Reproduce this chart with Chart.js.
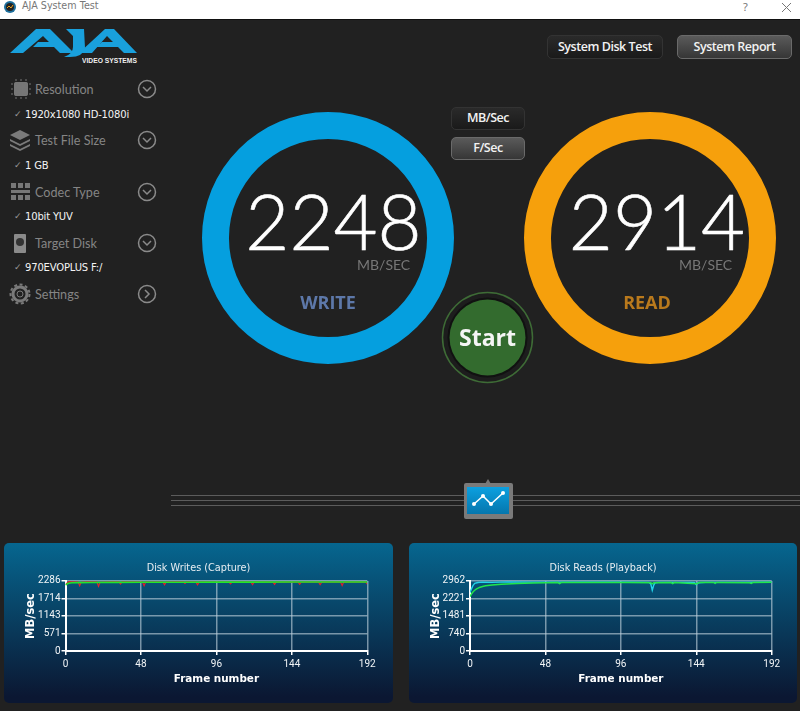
<!DOCTYPE html>
<html><head><meta charset="utf-8">
<script src="https://cdn.jsdelivr.net/npm/chart.js@4"></script>
<style>
html,body{margin:0;padding:0;background:#212121;width:800px;height:711px;overflow:hidden}
#root{position:absolute;left:0;top:0;width:800px;height:711px;background:#212121;overflow:hidden}
.a{position:absolute;white-space:nowrap}
canvas{position:absolute}
.btn{position:absolute;border-radius:5px;color:#f2f2f2;font:600 12.5px "Open Sans",sans-serif;letter-spacing:-.45px;text-align:center;box-sizing:border-box;border:1px solid #333}
.dark{background:linear-gradient(#2a2a2a,#1a1a1a)}
.light{background:linear-gradient(#5a5a5a,#363636);border-color:#6a6a6a}
.lab{font:12.6px Lato,sans-serif;color:#858585;left:35px}
.val{font:10px "DejaVu Sans",sans-serif;letter-spacing:-.17px;color:#f4f4f4;left:25px}
.chk{font:9px "DejaVu Sans",sans-serif;color:#999;left:14px}
.panel{position:absolute;top:543px;height:160px;border-radius:5px;background:linear-gradient(#06668f,#0b1732 96%)}
.line{position:absolute;left:171px;width:629px;height:1px;background:#5c5c5c}
.num{left:207.5px;width:252px;text-align:center;top:176px;font:300 76px/90px Lato,sans-serif;color:#fff;-webkit-text-stroke:.6px #fff}
</style></head><body>
<div id="root">
<div class="a" style="left:0;top:0;width:800px;height:20px;background:#fff;border-bottom:1px solid #111;box-sizing:border-box"></div>
<svg class="a" style="left:3px;top:0" width="14" height="14"><circle cx="7" cy="7" r="6" fill="#1d6f9c"/><circle cx="7" cy="7" r="4" fill="#222"/><path d="M4 8 L6 6 L8 8 L10 5" stroke="#e8a020" fill="none"/></svg>
<div class="a" style="left:22px;top:0;font:9.6px 'DejaVu Sans',sans-serif;color:#777">AJA System Test</div>
<div class="a" style="left:743px;top:-1px;font:11px 'Noto Sans',sans-serif;color:#777">?</div>
<svg class="a" style="left:780px;top:1px" width="12" height="12"><path d="M2 2L11 11M11 2L2 11" stroke="#777"/></svg>

<svg class="a" style="left:0;top:20px" width="150" height="45"><g fill="#19a0dc" transform="translate(0,-20)">
<path d="M10 53 L36 29 H50 L74 53 H60 L54 47 H33 L38 42 H49 L43 36 L23 53Z"/>
<path d="M66 29 H84 L85 48 Q83 57 70 57 H64 Q73 54 73 47 L73 36Z"/>
<path d="M79 53 L105 29 H114 L137 53 H124 L118 47 H97 L102 42 H113 L107 36 L92 53Z"/>
</g></svg>
<div class="a" style="left:82px;top:56px;font:bold 8px 'Liberation Sans',sans-serif;color:#f0f0f0;transform:scaleX(.84);transform-origin:left">VIDEO SYSTEMS</div>

<svg class="a" style="left:0;top:75px" width="170" height="235" fill="none">
<g><rect x="14" y="7" width="14" height="14" rx="2" fill="#777"/><path d="M11 9H31M11 14H31M11 19H31M16 4V24M21 4V24M26 4V24" stroke="#777" stroke-dasharray="2 1"/></g>
<g fill="#7a7a7a"><path d="M10 60L20 55L30 60L20 65Z"/><path d="M10 64L20 69L30 64V66L20 71L10 66Z"/><path d="M10 69L20 74L30 69V71L20 76L10 71Z"/></g>
<g fill="#777"><path d="M11 108h5v5h-5zM18 108h5v5h-5zM25 108h5v5h-5zM11 115h19v3h-19zM11 120h5v5h-5zM18 120h5v5h-5zM25 120h5v5h-5z"/></g>
<g><rect x="14" y="159" width="12" height="19" rx="1" fill="#8a8a8a"/><circle cx="20" cy="167" r="4" fill="#333"/></g>
<g><circle cx="20" cy="219" r="7" stroke="#7a7a7a" stroke-width="3"/><circle cx="20" cy="219" r="9.5" stroke="#7a7a7a" stroke-width="2" stroke-dasharray="3 2.5"/><circle cx="20" cy="219" r="3" stroke="#7a7a7a"/></g>
<g stroke="#8a8a8a" stroke-width="1.5"><circle cx="147" cy="14" r="8.5"/><path d="M143 12l4 4l4-4"/><circle cx="147" cy="65" r="8.5"/><path d="M143 63l4 4l4-4"/><circle cx="147" cy="117" r="8.5"/><path d="M143 115l4 4l4-4"/><circle cx="147" cy="168" r="8.5"/><path d="M143 166l4 4l4-4"/><circle cx="147" cy="219" r="8.5"/><path d="M145 215l4 4l-4 4"/></g>
</svg>
<div class="a lab" style="top:82px">Resolution</div>
<div class="a chk" style="top:109px">✓</div><div class="a val" style="top:109px">1920x1080 HD-1080i</div>
<div class="a lab" style="top:133px">Test File Size</div>
<div class="a chk" style="top:160px">✓</div><div class="a val" style="top:160px">1 GB</div>
<div class="a lab" style="top:185px">Codec Type</div>
<div class="a chk" style="top:211px">✓</div><div class="a val" style="top:211px">10bit YUV</div>
<div class="a lab" style="top:236px">Target Disk</div>
<div class="a chk" style="top:262px">✓</div><div class="a val" style="top:262px">970EVOPLUS F:/</div>
<div class="a lab" style="top:287px">Settings</div>

<div class="btn dark" style="left:547px;top:35px;width:116px;height:24px;line-height:22px">System Disk Test</div>
<div class="btn light" style="left:677px;top:35px;width:115px;height:24px;line-height:22px">System Report</div>
<div class="btn dark" style="left:451px;top:107px;width:74px;height:23px;line-height:20px">MB/Sec</div>
<div class="btn light" style="left:451px;top:137px;width:74px;height:23px;line-height:20px">F/Sec</div>

<canvas id="ringW" style="left:201.5px;top:111.5px;width:252px;height:252px" width="252" height="252"></canvas>
<canvas id="ringR" style="left:524px;top:111.5px;width:252px;height:252px" width="252" height="252"></canvas>

<div class="a num" id="numW"></div>
<div class="a num" id="numR" style="left:531px"></div>
<div class="a" style="left:357px;top:256px;font:14px Lato,sans-serif;color:#777">MB/SEC</div>
<div class="a" style="left:679px;top:256px;font:14px Lato,sans-serif;color:#777">MB/SEC</div>
<div class="a" style="left:228px;width:200px;text-align:center;top:290px;font:bold 18px 'Open Sans',sans-serif;color:#5d78a9">WRITE</div>
<div class="a" style="left:547px;width:200px;text-align:center;top:290px;font:bold 18px 'Open Sans',sans-serif;color:#b9791c">READ</div>

<svg class="a" style="left:440px;top:290px" width="96" height="96"><circle cx="47.5" cy="47.5" r="45" fill="#1d1d1d" stroke="#3e6b36" stroke-width="1.5"/><circle cx="47.5" cy="47.5" r="40" fill="#111"/><circle cx="47.5" cy="47.5" r="38" fill="#336b2e"/></svg>
<div class="a" style="left:440px;width:95px;text-align:center;top:321px;font:bold 23px 'Open Sans',sans-serif;color:#f5f5f5">Start</div>

<div class="line" style="top:495px"></div><div class="line" style="top:500px"></div><div class="line" style="top:505px"></div>
<svg class="a" style="left:462px;top:476px" width="54" height="46"><defs><linearGradient id="g" x1="0" y1="0" x2="0" y2="1"><stop offset="0" stop-color="#0ca0e0"/><stop offset="1" stop-color="#0576ad"/></linearGradient></defs>
<path d="M23 8L26 3L29 8Z" fill="#777"/><rect x="2" y="7" width="49" height="36" rx="2" fill="#7a7a7a"/><rect x="5" y="11" width="42" height="27" fill="url(#g)"/>
<path d="M12 28L21 20L29 28L41 17" stroke="#fff" stroke-width="1.5" fill="none"/><g fill="#fff"><circle cx="12" cy="28" r="2"/><circle cx="21" cy="20" r="2"/><circle cx="29" cy="28" r="2"/><circle cx="41" cy="17" r="2"/></g></svg>

<div class="panel" style="left:4px;width:389px"></div>
<div class="panel" style="left:409px;width:388px"></div>
<canvas id="chartW" style="left:4px;top:543px;width:389px;height:160px" width="389" height="160"></canvas>
<canvas id="chartR" style="left:409px;top:543px;width:388px;height:160px" width="388" height="160"></canvas>
</div>
<script>
const writeMBs = 2248;
const readMBs = 2914;
const frameTicks = [0, 48, 96, 144, 192];
const writeTicks = [0, 571, 1143, 1714, 2286];
const readTicks = [0, 740, 1481, 2221, 2962];

const writeRedFrames = [0,2,4,8,9,10,14,20,21,22,30,34,35,36,49,50,51,62,63,64,75,76,77,83,84,85,104,105,106,118,119,120,132,133,134,148,149,150,161,162,163,175,176,177,191,192];
const writeRedValues = [2170,2262,2258,2250,2130,2245,2262,2250,2110,2245,2262,2255,2190,2255,2250,2130,2250,2250,2160,2250,2255,2205,2255,2250,2160,2250,2250,2190,2250,2250,2165,2250,2250,2175,2250,2250,2180,2250,2250,2165,2250,2250,2140,2250,2250,2180];
const writeGreenFrames = [0,1,2,4,8,16,32,48,72,96,120,144,168,192];
const writeGreenValues = [2150,2190,2215,2228,2234,2238,2240,2244,2246,2250,2250,2252,2252,2254];

const readCyanFrames = [0,1,2,3,5,8,14,24,40,60,80,100,114,115,116,117,118,120,140,143,144,145,150,170,192];
const readCyanValues = [2480,2640,2780,2860,2900,2915,2905,2925,2915,2915,2915,2910,2905,2850,2570,2800,2890,2905,2905,2890,2810,2890,2905,2905,2910];
const readGreenFrames = [0,1,2,3,4,6,8,10,14,20,30,40,56,57,58,80,100,115,116,117,128,129,130,144,145,146,155,156,157,178,179,180,192];
const readGreenValues = [2300,2420,2510,2570,2620,2690,2730,2760,2790,2820,2860,2880,2895,2850,2895,2900,2900,2890,2840,2890,2895,2850,2895,2850,2870,2895,2900,2860,2900,2890,2860,2895,2905];

const pts = (xs, ys) => xs.map((x, i) => ({x, y: ys[i]}));
const FONT = "'DejaVu Sans', sans-serif";
const TICKFONT = "Roboto, sans-serif";
document.getElementById('numW').textContent = writeMBs;
document.getElementById('numR').textContent = readMBs;

function ring(id, value, color) {
  new Chart(document.getElementById(id), {
    type: 'doughnut',
    data: { labels: ['MB/sec'], datasets: [{ data: [value], backgroundColor: [color], borderWidth: 0 }] },
    options: { responsive: false, animation: false, cutout: '78.6%', layout: { padding: 0 },
      plugins: { legend: { display: false }, tooltip: { enabled: false } } }
  });
}
ring('ringW', writeMBs, '#059fdf');
ring('ringR', readMBs, '#f6a00c');

function lineChart(id, title, yTicks, datasets, axisW, padR) {
  new Chart(document.getElementById(id), {
    type: 'line',
    data: { datasets },
    options: {
      responsive: false, animation: false, parsing: false,
      layout: { padding: 0 },
      elements: { point: { radius: 0 }, line: { tension: 0, borderWidth: 1.4 } },
      plugins: {
        legend: { display: false }, tooltip: { enabled: false },
        title: { display: true, text: title, color: '#e8eef2', font: { family: FONT, size: 9.7, weight: 'normal', lineHeight: 1.237 }, padding: { top: 19, bottom: 7 } }
      },
      scales: {
        x: {
          type: 'linear', min: 0, max: 192,
          afterBuildTicks: s => { s.ticks = frameTicks.map(value => ({ value })); },
          afterFit: s => { s.height = 52; },
          ticks: { color: '#f2f5f7', font: { family: TICKFONT, size: 10 }, padding: 3, maxRotation: 0, autoSkip: false },
          grid: { color: 'rgba(190,208,220,.62)', lineWidth: 1.5, tickLength: 4, tickColor: '#fff' },
          border: { color: '#fff', width: 2 },
          title: { display: true, text: 'Frame number', color: '#fff', font: { family: FONT, size: 10.4, weight: 'bold', lineHeight: 1.1 }, padding: { top: 2, bottom: 18 } }
        },
        y: {
          min: 0, max: yTicks[yTicks.length - 1],
          afterBuildTicks: s => { s.ticks = yTicks.map(value => ({ value })); },
          afterFit: s => { s.width = axisW; },
          ticks: { color: '#f2f5f7', font: { family: TICKFONT, size: 10 }, padding: 1, autoSkip: false, callback: v => String(v) },
          grid: { color: 'rgba(190,208,220,.62)', lineWidth: 1.5, tickLength: 4, tickColor: '#fff' },
          border: { color: '#fff', width: 2 },
          title: { display: true, text: 'MB/sec', color: '#fff', font: { family: FONT, size: 11.5, weight: 'bold', lineHeight: 1.1 }, padding: { top: 21, bottom: 0 } }
        },
        spacer: {
          position: 'right', display: true, min: 0, max: 1,
          afterFit: s => { s.width = padR; },
          ticks: { display: false }, grid: { display: false, drawOnChartArea: false }, border: { display: false }
        }
      }
    }
  });
}
lineChart('chartW', 'Disk Writes (Capture)', writeTicks, [
  { data: pts(writeGreenFrames, writeGreenValues), borderColor: '#22e62a', borderWidth: 1.6, yAxisID: 'y', xAxisID: 'x' },
  { data: pts(writeRedFrames, writeRedValues), borderColor: '#e0202a', borderWidth: 1.2, yAxisID: 'y', xAxisID: 'x' }
], 61.5, 25.7);
lineChart('chartR', 'Disk Reads (Playback)', readTicks, [
  { data: pts(readGreenFrames, readGreenValues), borderColor: '#22e64a', borderWidth: 1.5, yAxisID: 'y', xAxisID: 'x' },
  { data: pts(readCyanFrames, readCyanValues), borderColor: '#22d4ea', borderWidth: 1.4, yAxisID: 'y', xAxisID: 'x' }
], 61, 25.3);
</script>
</body></html>
